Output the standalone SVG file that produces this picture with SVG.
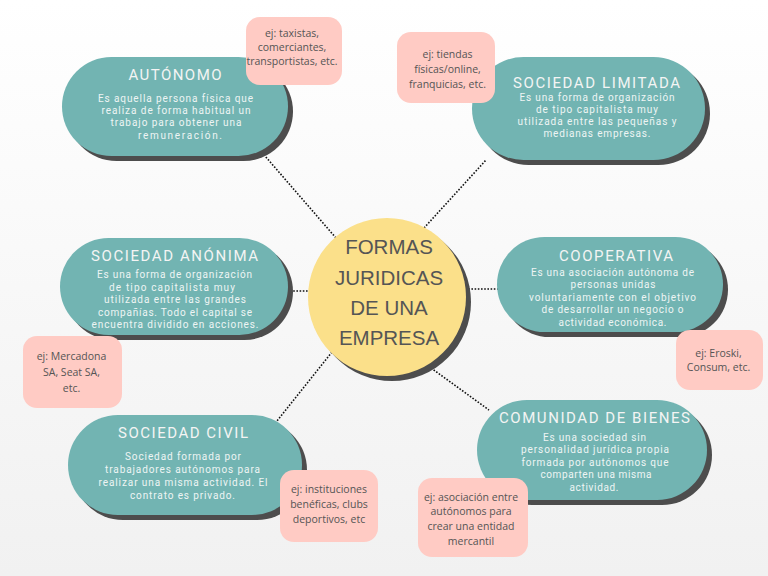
<svg xmlns="http://www.w3.org/2000/svg" width="768" height="576" viewBox="0 0 768 576">
<defs>
<linearGradient id="bg" x1="0" y1="0" x2="0" y2="1">
<stop offset="0" stop-color="#ffffff"/>
<stop offset="1" stop-color="#f1f1f1"/>
</linearGradient>
<style>
.pill{fill:#72b4b2}
.shadow{fill:#4d4d4d}
.title{font-family:Roboto,"Liberation Sans",sans-serif;font-size:15px;fill:#f4f4f4;text-anchor:middle}
.desc{font-family:Roboto,"Liberation Sans",sans-serif;font-size:10px;fill:#eef4f4;text-anchor:middle}
.note{fill:#ffcbc4}
.ntxt{font-family:"Open Sans","Liberation Sans",sans-serif;font-size:10.5px;fill:#555;text-anchor:middle}
.ctr{font-family:"Liberation Sans",Arial,sans-serif;font-size:20.5px;fill:#555;text-anchor:middle}
.link{stroke:#111;stroke-width:1.6;stroke-dasharray:1.6 1.6;fill:none}
</style>
</defs>
<rect width="768" height="576" fill="url(#bg)"/>

<g id="connectors">
<line class="link" x1="336" y1="238" x2="265" y2="156"/>
<line class="link" x1="424" y1="228" x2="486" y2="160"/>
<line class="link" x1="290" y1="291" x2="308" y2="291"/>
<line class="link" x1="465" y1="289" x2="498" y2="289"/>
<line class="link" x1="332" y1="352" x2="277" y2="421"/>
<line class="link" x1="431" y1="368" x2="489" y2="410"/>
</g>

<g id="autonomo">
<rect class="shadow" x="67" y="62" width="226" height="99" rx="49.5"/>
<rect class="pill" x="62" y="57" width="226" height="99" rx="49.5"/>
<text class="title" x="175" y="79.5" textLength="93" lengthAdjust="spacing">AUTÓNOMO</text>
<text class="desc" x="175.5" y="101.5" textLength="155" lengthAdjust="spacing">Es aquella persona física que</text>
<text class="desc" x="176" y="114" textLength="149" lengthAdjust="spacing">realiza de forma habitual un</text>
<text class="desc" x="176" y="126.3" textLength="131" lengthAdjust="spacing">trabajo para obtener una</text>
<text class="desc" x="180" y="138.5" textLength="84" lengthAdjust="spacing">remuneración.</text>
</g>

<g id="sociedad-limitada">
<rect class="shadow" x="477" y="62" width="233" height="103" rx="51.5"/>
<rect class="pill" x="472" y="57" width="233" height="103" rx="51.5"/>
<text class="title" x="596.5" y="88" textLength="167" lengthAdjust="spacing">SOCIEDAD LIMITADA</text>
<text class="desc" x="597" y="100.7" textLength="155" lengthAdjust="spacing">Es una forma de organización</text>
<text class="desc" x="597" y="112.8" textLength="122" lengthAdjust="spacing">de tipo capitalista muy</text>
<text class="desc" x="597" y="125" textLength="159" lengthAdjust="spacing">utilizada entre las pequeñas y</text>
<text class="desc" x="597" y="137.3" textLength="107" lengthAdjust="spacing">medianas empresas.</text>
</g>

<g id="sociedad-anonima">
<rect class="shadow" x="65" y="243" width="228" height="97" rx="48.5"/>
<rect class="pill" x="60" y="238" width="228" height="97" rx="48.5"/>
<text class="title" x="174.5" y="261" textLength="167" lengthAdjust="spacing">SOCIEDAD ANÓNIMA</text>
<text class="desc" x="174.5" y="278.3" textLength="155" lengthAdjust="spacing">Es una forma de organización</text>
<text class="desc" x="172" y="291" textLength="126" lengthAdjust="spacing">de tipo capitalista muy</text>
<text class="desc" x="175" y="303.3" textLength="142" lengthAdjust="spacing">utilizada entre las grandes</text>
<text class="desc" x="175" y="316" textLength="154" lengthAdjust="spacing">compañías. Todo el capital se</text>
<text class="desc" x="175" y="328.3" textLength="167" lengthAdjust="spacing">encuentra dividido en acciones.</text>
</g>

<g id="cooperativa">
<rect class="shadow" x="502" y="242" width="226" height="95" rx="47.5"/>
<rect class="pill" x="497" y="237" width="226" height="95" rx="47.5"/>
<text class="title" x="616" y="261" textLength="114" lengthAdjust="spacing">COOPERATIVA</text>
<text class="desc" x="612.5" y="275.7" textLength="163" lengthAdjust="spacing">Es una asociación autónoma de</text>
<text class="desc" x="613" y="288.3" textLength="85" lengthAdjust="spacing">personas unidas</text>
<text class="desc" x="612.5" y="300.7" textLength="167" lengthAdjust="spacing">voluntariamente con el objetivo</text>
<text class="desc" x="612.5" y="313.3" textLength="142" lengthAdjust="spacing">de desarrollar un negocio o</text>
<text class="desc" x="612.5" y="325.7" textLength="108" lengthAdjust="spacing">actividad económica.</text>
</g>

<g id="sociedad-civil">
<rect class="shadow" x="73" y="420" width="234" height="100" rx="50"/>
<rect class="pill" x="68" y="415" width="234" height="100" rx="50"/>
<text class="title" x="183" y="438.3" textLength="130" lengthAdjust="spacing">SOCIEDAD CIVIL</text>
<text class="desc" x="183" y="460" textLength="116" lengthAdjust="spacing">Sociedad formada por</text>
<text class="desc" x="182.5" y="473.3" textLength="155" lengthAdjust="spacing">trabajadores autónomos para</text>
<text class="desc" x="183" y="486" textLength="169" lengthAdjust="spacing">realizar una misma actividad. El</text>
<text class="desc" x="182.5" y="499.3" textLength="105" lengthAdjust="spacing">contrato es privado.</text>
</g>

<g id="comunidad-de-bienes">
<rect class="shadow" x="482" y="405" width="230" height="100" rx="50"/>
<rect class="pill" x="477" y="400" width="230" height="100" rx="50"/>
<text class="title" x="594.5" y="423.3" textLength="191" lengthAdjust="spacing">COMUNIDAD DE BIENES</text>
<text class="desc" x="594.5" y="440.7" textLength="103" lengthAdjust="spacing">Es una sociedad sin</text>
<text class="desc" x="595" y="453.3" textLength="148" lengthAdjust="spacing">personalidad jurídica propia</text>
<text class="desc" x="595" y="466" textLength="147" lengthAdjust="spacing">formada por autónomos que</text>
<text class="desc" x="596" y="478.3" textLength="111" lengthAdjust="spacing">comparten una misma</text>
<text class="desc" x="594" y="491.3" textLength="49" lengthAdjust="spacing">actividad.</text>
</g>

<g id="centro">
<circle cx="392" cy="302" r="79" fill="#4d4d4d"/>
<circle cx="387" cy="297" r="79" fill="#fbe08a"/>
<text class="ctr" x="389" y="254">FORMAS</text>
<text class="ctr" x="389" y="284.5">JURIDICAS</text>
<text class="ctr" x="389" y="315">DE UNA</text>
<text class="ctr" x="389" y="345">EMPRESA</text>
</g>

<g id="nota-autonomo">
<rect class="note" x="246" y="17" width="96" height="68" rx="14"/>
<text class="ntxt" x="292" y="36.7">ej: taxistas,</text>
<text class="ntxt" x="292" y="50.7">comerciantes,</text>
<text class="ntxt" x="292" y="65">transportistas, etc.</text>
</g>

<g id="nota-limitada">
<rect class="note" x="397" y="32" width="98" height="71" rx="14"/>
<text class="ntxt" x="447.5" y="58.3">ej: tiendas</text>
<text class="ntxt" x="447.5" y="73">físicas/online,</text>
<text class="ntxt" x="447.5" y="88">franquicias, etc.</text>
</g>

<g id="nota-anonima">
<rect class="note" x="23" y="336" width="99" height="72" rx="14"/>
<text class="ntxt" x="71.5" y="360">ej: Mercadona</text>
<text class="ntxt" x="71.5" y="375.5">SA, Seat SA,</text>
<text class="ntxt" x="71.5" y="391.5">etc.</text>
</g>

<g id="nota-cooperativa">
<rect class="note" x="676" y="330" width="87" height="60" rx="14"/>
<text class="ntxt" x="718.5" y="356.7">ej: Eroski,</text>
<text class="ntxt" x="718.5" y="370.5">Consum, etc.</text>
</g>

<g id="nota-civil">
<rect class="note" x="280" y="470" width="98" height="72" rx="14"/>
<text class="ntxt" x="329" y="493.3">ej: instituciones</text>
<text class="ntxt" x="329" y="508.3">benéficas, clubs</text>
<text class="ntxt" x="329" y="523.3">deportivos, etc</text>
</g>

<g id="nota-bienes">
<rect class="note" x="418" y="478" width="110" height="79" rx="14"/>
<text class="ntxt" x="471" y="500.7">ej: asociación entre</text>
<text class="ntxt" x="471" y="515">autónomos para</text>
<text class="ntxt" x="471" y="530">crear una entidad</text>
<text class="ntxt" x="471" y="544.5">mercantil</text>
</g>
</svg>
